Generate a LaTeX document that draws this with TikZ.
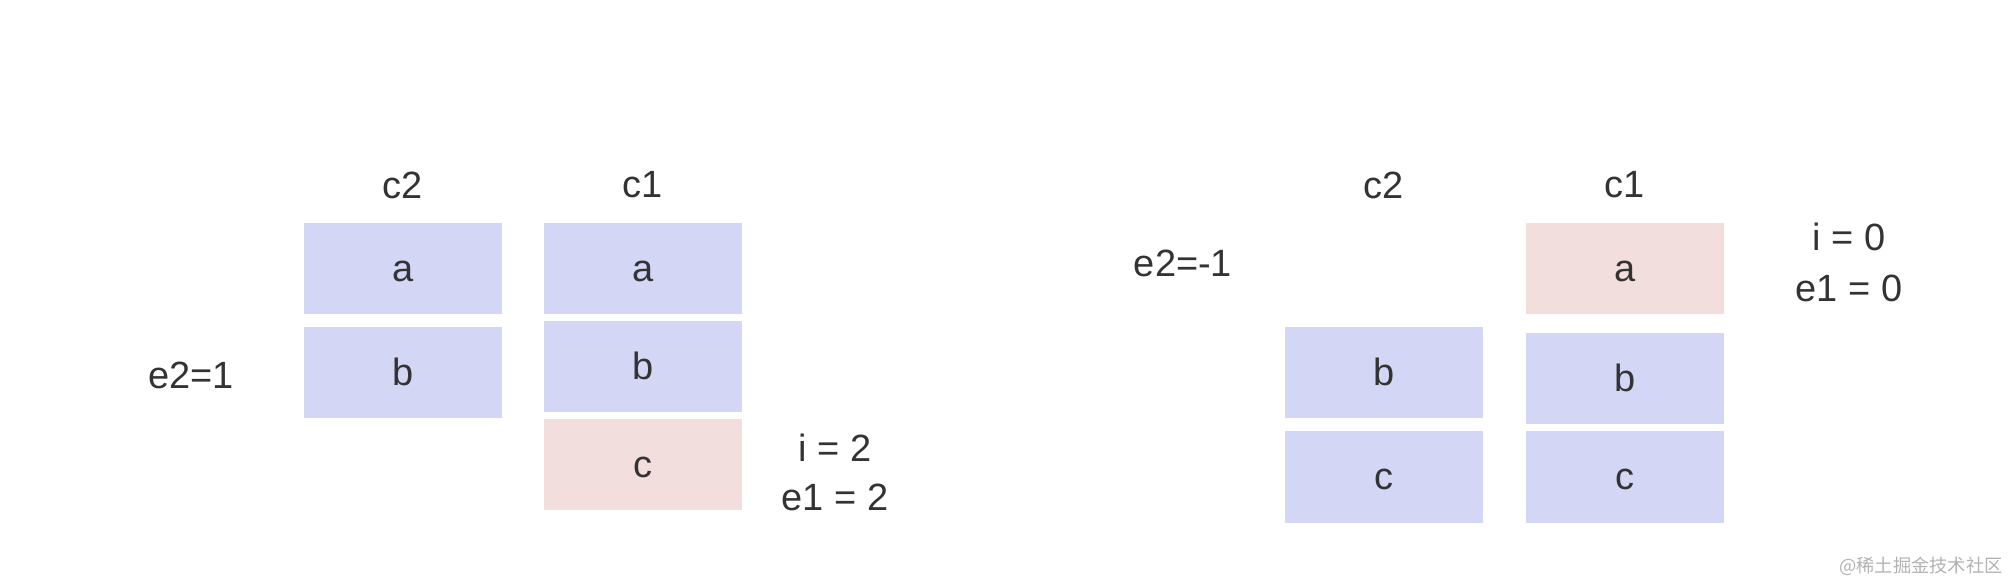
\documentclass[tikz,border=0pt]{standalone}
\usepackage{fontspec}
\setmainfont{Liberation Sans}
\newfontfamily\cjk{Noto Sans CJK SC}
\usepackage{xcolor}
\definecolor{cellblue}{RGB}{212,214,245}
\definecolor{cellpink}{RGB}{243,222,222}
\definecolor{txtgray}{RGB}{51,51,51}

\begin{document}
\begin{tikzpicture}[x=0.01cm, y=-0.01cm,
            cell/.style={shape=rectangle, minimum width=1.98cm, minimum height=0.91cm, inner sep=0pt, text height=0.72em, text depth=0pt, text=txtgray, font=\fontsize{10.8}{13}\selectfont},
            bcell/.style={cell, fill=cellblue},
            pcell/.style={cell, fill=cellpink},
            lbl/.style={inner sep=0pt, text=txtgray, font=\fontsize{10.8}{13}\selectfont}]
        \useasboundingbox (0,0) rectangle (2008,582);

        % left case
        \node[lbl] (lctwo) at (403,185) {c2};
        \node[lbl] (lcone) at (643,185) {c1};
        \node[lbl] (letwo) at (191,375) {e2=1};

        \node[bcell] (lta) at (403,268.5) {a};
        \node[bcell] (ltb) at (403,372.5) {b};

        \node[bcell] (loa) at (643,268.5) {a};
        \node[bcell] (lob) at (643,366.5) {b};
        \node[pcell] (loc) at (643,464.5) {c};

        \node[lbl] (li) at (835,448) {i = 2};
        \node[lbl] (leone) at (835,497) {e1 = 2};

        % right case
        \node[lbl] (rctwo) at (1384,185) {c2};
        \node[lbl] (rcone) at (1625,185) {c1};
        \node[lbl] (retwo) at (1183,263) {e2=-1};

        \node[bcell] (rtb) at (1384,372.5) {b};
        \node[bcell] (rtc) at (1384,477) {c};

        \node[pcell] (roa) at (1625,268.5) {a};
        \node[bcell] (rob) at (1625,378.5) {b};
        \node[bcell] (roc) at (1625,477) {c};

        \node[lbl] (ri) at (1849,237) {i = 0};
        \node[lbl] (reone) at (1849,288) {e1 = 0};

        \node[inner sep=0pt, text=black!30, font=\cjk\fontsize{5.2}{6}\selectfont] (mark) at (1921,566) {@稀土掘金技术社区};
    \end{tikzpicture}
\end{document}
